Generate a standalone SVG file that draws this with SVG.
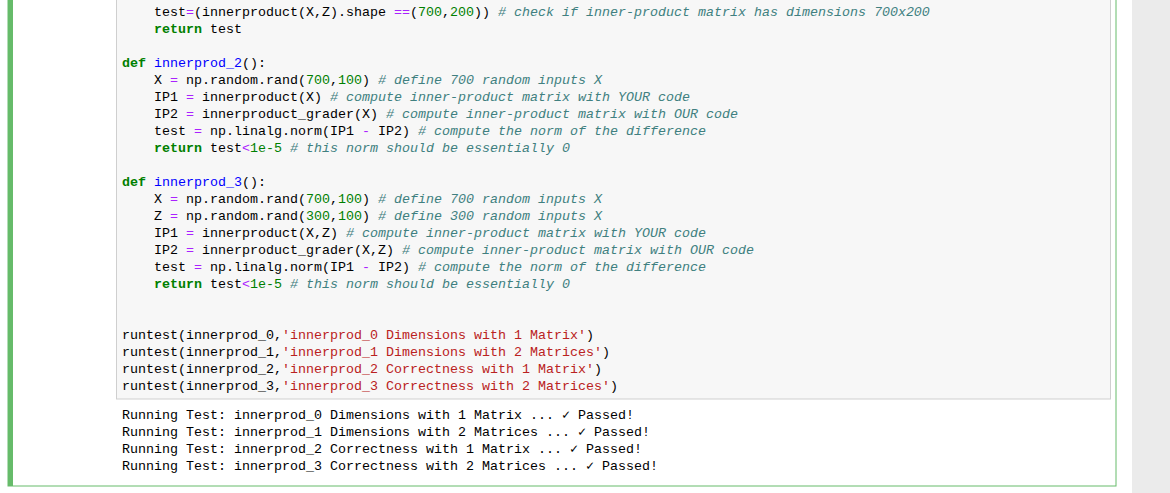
<svg xmlns="http://www.w3.org/2000/svg" width="1170" height="493" viewBox="0 0 1170 493">
<style>
text{font-family:"Liberation Mono","DejaVu Sans Mono",monospace;font-size:13.33px;fill:#000;white-space:pre}
.k{fill:#008000;font-weight:bold}.f{fill:#0000ff}.n{fill:#008000}.o{fill:#aa22ff}.c{fill:#408080;font-style:italic}.s{fill:#ba2121}
</style>
<rect width="1170" height="493" fill="#fff"/>
<rect x="1132" y="0" width="38" height="493" fill="#ebebeb"/>
<g id="cell">
<rect x="8" y="-2" width="1108" height="488" fill="none" stroke="#66bb6a" stroke-width="1"/>
<rect x="8" y="0" width="5" height="486" fill="#66bb6a"/>
<rect x="116.5" y="-2" width="994" height="401" fill="#f7f7f7" stroke="#cfcfcf"/>
</g>
<g id="code">
<text x="154" y="16">test<tspan class="o">=</tspan>(innerproduct(X,Z).shape <tspan class="o">==</tspan>(<tspan class="n">700</tspan>,<tspan class="n">200</tspan>)) <tspan class="c"># check if inner-product matrix has dimensions 700x200</tspan></text>
<text x="154" y="33"><tspan class="k">return</tspan> test</text>
<text x="122" y="67"><tspan class="k">def</tspan> <tspan class="f">innerprod_2</tspan>():</text>
<text x="154" y="84">X <tspan class="o">=</tspan> np.random.rand(<tspan class="n">700</tspan>,<tspan class="n">100</tspan>) <tspan class="c"># define 700 random inputs X</tspan></text>
<text x="154" y="101">IP1 <tspan class="o">=</tspan> innerproduct(X) <tspan class="c"># compute inner-product matrix with YOUR code</tspan></text>
<text x="154" y="118">IP2 <tspan class="o">=</tspan> innerproduct_grader(X) <tspan class="c"># compute inner-product matrix with OUR code</tspan></text>
<text x="154" y="135">test <tspan class="o">=</tspan> np.linalg.norm(IP1 <tspan class="o">-</tspan> IP2) <tspan class="c"># compute the norm of the difference</tspan></text>
<text x="154" y="152"><tspan class="k">return</tspan> test<tspan class="o">&lt;</tspan><tspan class="n">1e-5</tspan> <tspan class="c"># this norm should be essentially 0</tspan></text>
<text x="122" y="186"><tspan class="k">def</tspan> <tspan class="f">innerprod_3</tspan>():</text>
<text x="154" y="203">X <tspan class="o">=</tspan> np.random.rand(<tspan class="n">700</tspan>,<tspan class="n">100</tspan>) <tspan class="c"># define 700 random inputs X</tspan></text>
<text x="154" y="220">Z <tspan class="o">=</tspan> np.random.rand(<tspan class="n">300</tspan>,<tspan class="n">100</tspan>) <tspan class="c"># define 300 random inputs X</tspan></text>
<text x="154" y="237">IP1 <tspan class="o">=</tspan> innerproduct(X,Z) <tspan class="c"># compute inner-product matrix with YOUR code</tspan></text>
<text x="154" y="254">IP2 <tspan class="o">=</tspan> innerproduct_grader(X,Z) <tspan class="c"># compute inner-product matrix with OUR code</tspan></text>
<text x="154" y="271">test <tspan class="o">=</tspan> np.linalg.norm(IP1 <tspan class="o">-</tspan> IP2) <tspan class="c"># compute the norm of the difference</tspan></text>
<text x="154" y="288"><tspan class="k">return</tspan> test<tspan class="o">&lt;</tspan><tspan class="n">1e-5</tspan> <tspan class="c"># this norm should be essentially 0</tspan></text>
<text x="122" y="339">runtest(innerprod_0,<tspan class="s">'innerprod_0 Dimensions with 1 Matrix'</tspan>)</text>
<text x="122" y="356">runtest(innerprod_1,<tspan class="s">'innerprod_1 Dimensions with 2 Matrices'</tspan>)</text>
<text x="122" y="373">runtest(innerprod_2,<tspan class="s">'innerprod_2 Correctness with 1 Matrix'</tspan>)</text>
<text x="122" y="390">runtest(innerprod_3,<tspan class="s">'innerprod_3 Correctness with 2 Matrices'</tspan>)</text>
</g>
<g id="output">
<text x="122" y="419">Running Test: innerprod_0 Dimensions with 1 Matrix ... ✓ Passed!</text>
<text x="122" y="436">Running Test: innerprod_1 Dimensions with 2 Matrices ... ✓ Passed!</text>
<text x="122" y="453">Running Test: innerprod_2 Correctness with 1 Matrix ... ✓ Passed!</text>
<text x="122" y="470">Running Test: innerprod_3 Correctness with 2 Matrices ... ✓ Passed!</text>
</g>
</svg>
